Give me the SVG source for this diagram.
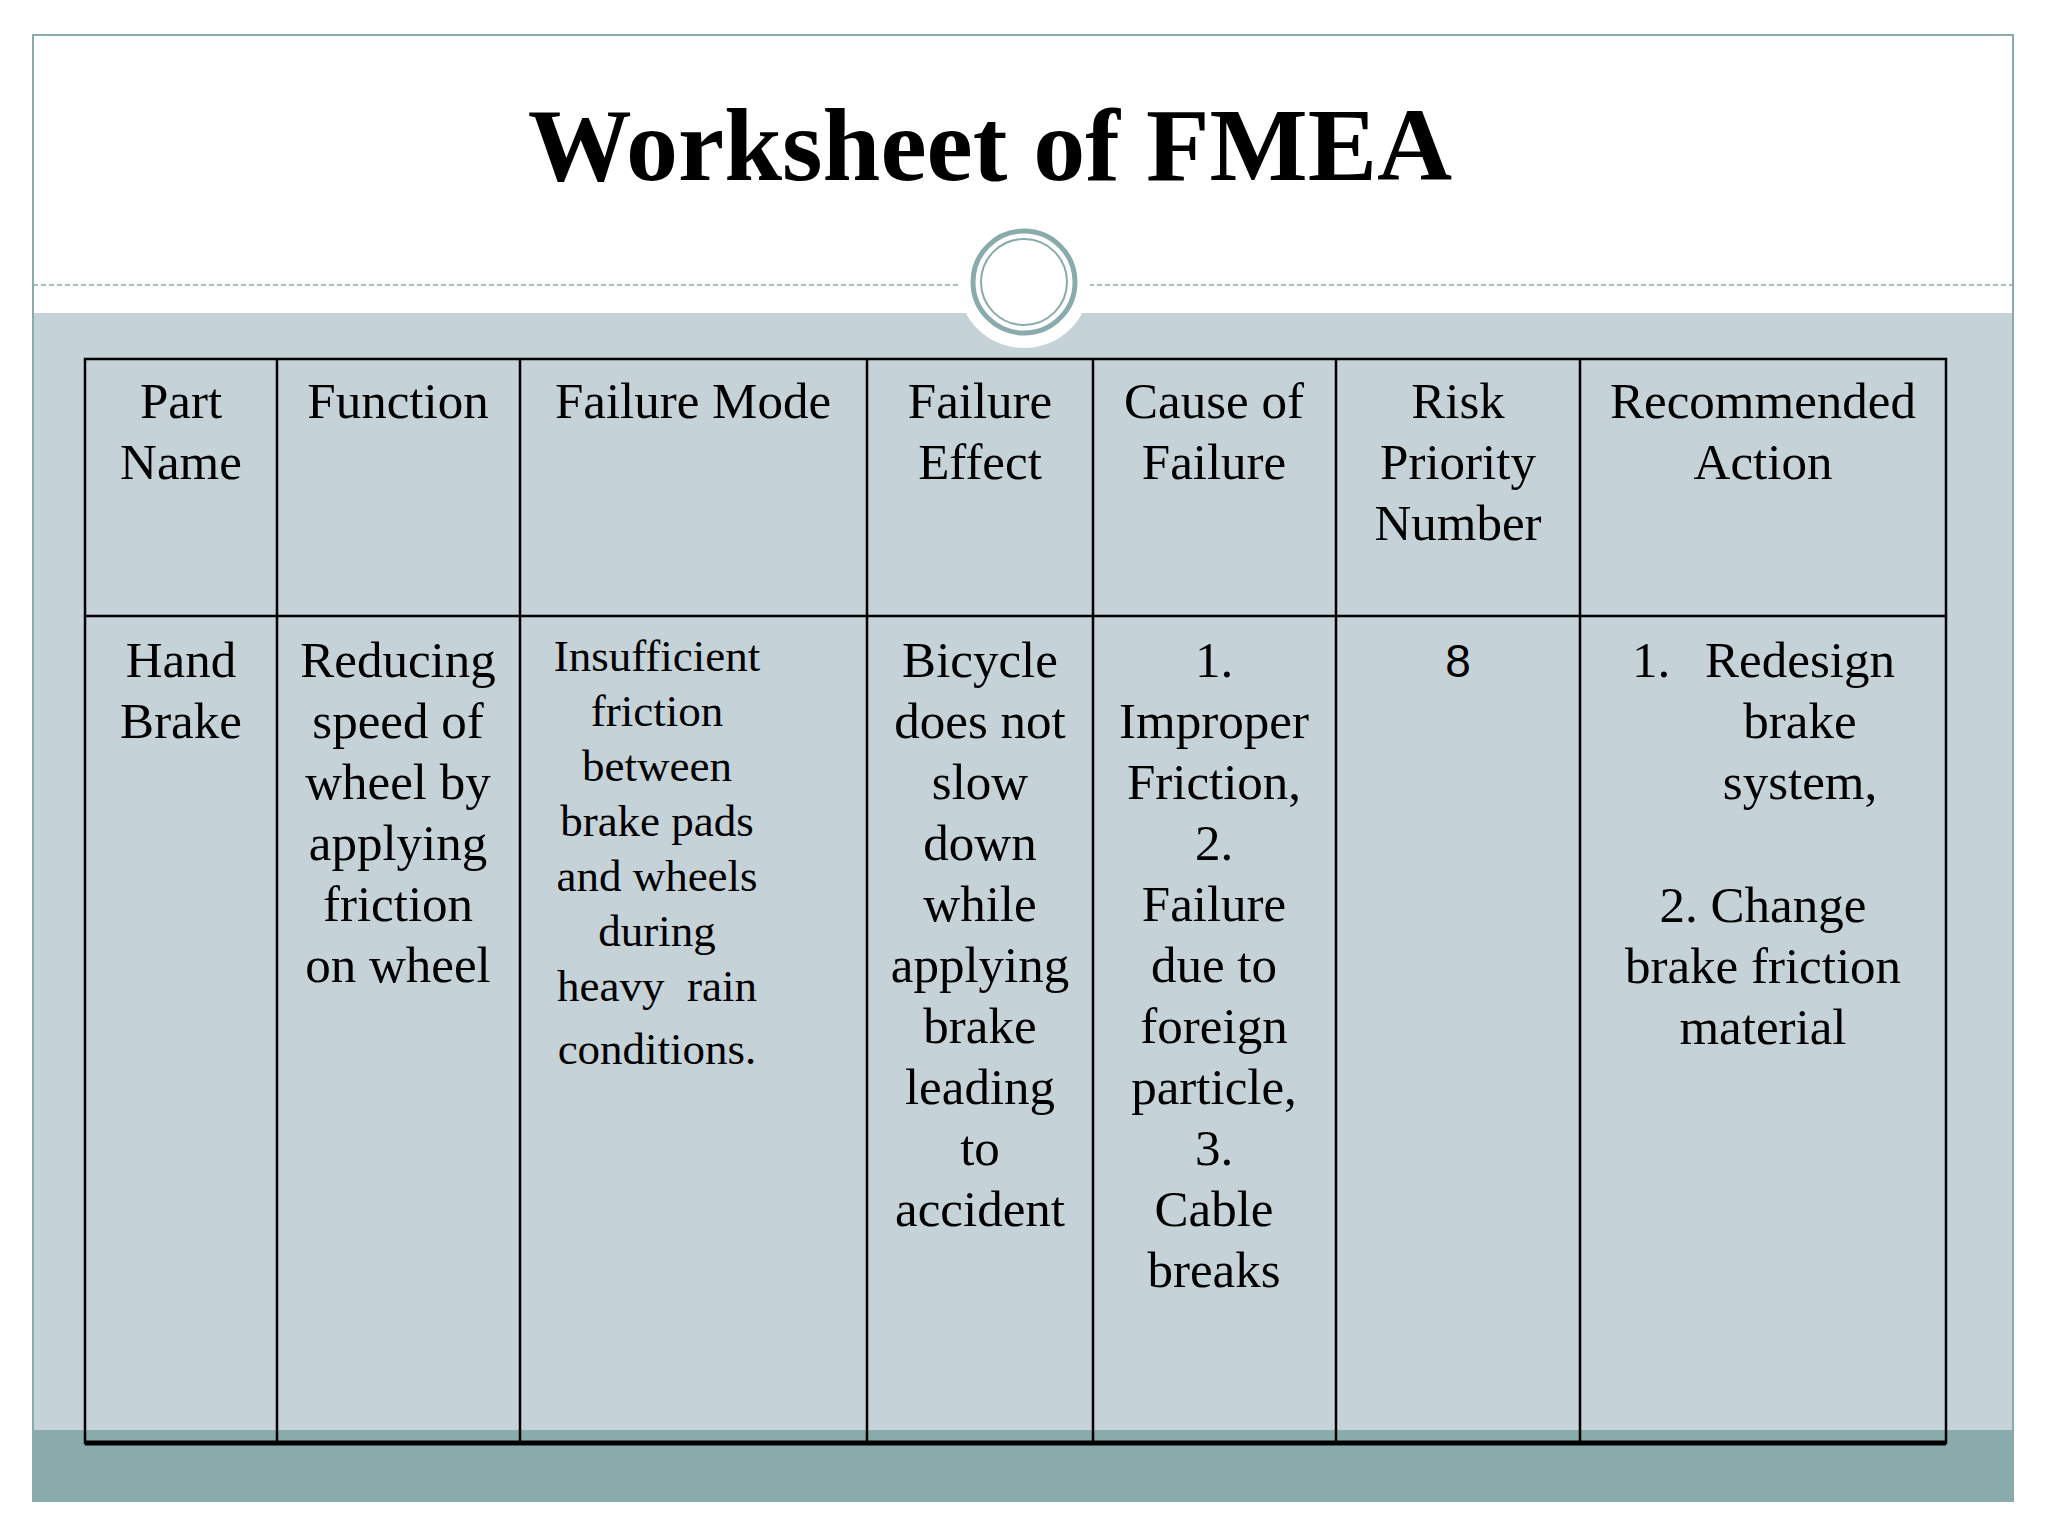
<svg xmlns="http://www.w3.org/2000/svg" width="2048" height="1536" viewBox="0 0 2048 1536">
<style>
.t{font-family:"Liberation Serif","Times New Roman",serif;font-size:51px;fill:#000;text-anchor:middle}
.s{font-size:45px}
.g{stroke:#000;stroke-width:2.5;fill:none}
</style>
<rect width="2048" height="1536" fill="#fff"/>
<rect x="33" y="313" width="1980" height="1188" fill="#c5d2d7"/>
<rect x="33" y="1430" width="1980" height="71" fill="#8aabab"/>
<rect x="33" y="35" width="1980" height="1466" fill="none" stroke="#8aabab" stroke-width="2"/>
<line x1="33" y1="285" x2="2013" y2="285" stroke="#8aabab" stroke-width="1.5" stroke-dasharray="5,3"/>
<circle cx="1024" cy="282" r="66" fill="#fff"/>
<circle cx="1024" cy="282" r="51" fill="#fff" stroke="#8aabab" stroke-width="5"/>
<circle cx="1024" cy="282" r="43" fill="none" stroke="#8aabab" stroke-width="2"/>
<text x="990" y="180" class="t" style="font-weight:bold;font-size:104px">Worksheet of FMEA</text>
<g id="table">
<rect x="85" y="359" width="1861" height="1084" class="g"/>
<line x1="85" y1="1443" x2="1946" y2="1443" stroke="#000" stroke-width="5"/>
<line x1="85" y1="616" x2="1946" y2="616" class="g"/>
<path d="M277 359V1443M520 359V1443M867 359V1443M1093 359V1443M1336 359V1443M1580 359V1443" class="g"/>
</g>
<g id="header" class="t">
<text x="181" y="418">Part</text><text x="181" y="479">Name</text>
<text x="398" y="418">Function</text>
<text x="693" y="418">Failure Mode</text>
<text x="980" y="418">Failure</text><text x="980" y="479">Effect</text>
<text x="1214" y="418">Cause of</text><text x="1214" y="479">Failure</text>
<text x="1458" y="418">Risk</text><text x="1458" y="479">Priority</text><text x="1458" y="540">Number</text>
<text x="1763" y="418">Recommended</text><text x="1763" y="479">Action</text>
</g>
<g id="row" class="t">
<text x="181" y="677">Hand</text><text x="181" y="738">Brake</text>
<text x="398" y="677">Reducing</text><text x="398" y="738">speed of</text><text x="398" y="799">wheel by</text><text x="398" y="860">applying</text><text x="398" y="921">friction</text><text x="398" y="982">on wheel</text>
<g class="s">
<text x="657" y="671">Insufficient</text><text x="657" y="726">friction</text><text x="657" y="781">between</text><text x="657" y="836">brake pads</text><text x="657" y="891">and wheels</text><text x="657" y="946">during</text><text x="657" y="1001" xml:space="preserve">heavy  rain</text><text x="657" y="1064">conditions.</text>
</g>
<text x="980" y="677">Bicycle</text><text x="980" y="738">does not</text><text x="980" y="799">slow</text><text x="980" y="860">down</text><text x="980" y="921">while</text><text x="980" y="982">applying</text><text x="980" y="1043">brake</text><text x="980" y="1104">leading</text><text x="980" y="1165">to</text><text x="980" y="1226">accident</text>
<text x="1214" y="677">1.</text><text x="1214" y="738">Improper</text><text x="1214" y="799">Friction,</text><text x="1214" y="860">2.</text><text x="1214" y="921">Failure</text><text x="1214" y="982">due to</text><text x="1214" y="1043">foreign</text><text x="1214" y="1104">particle,</text><text x="1214" y="1165">3.</text><text x="1214" y="1226">Cable</text><text x="1214" y="1287">breaks</text>
<text x="1458" y="677" style="font-family:'Liberation Sans',Arial,sans-serif;font-size:46px">8</text>
<text x="1632" y="677" style="text-anchor:start">1.</text><text x="1800" y="677">Redesign</text><text x="1800" y="738">brake</text><text x="1800" y="799">system,</text>
<text x="1763" y="922">2. Change</text><text x="1763" y="983">brake friction</text><text x="1763" y="1044">material</text>
</g>
</svg>
